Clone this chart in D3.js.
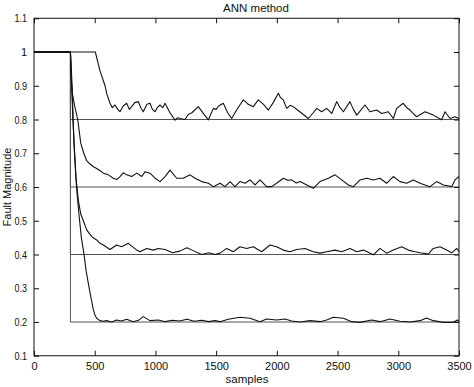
<!DOCTYPE html>
<html>
<head>
<meta charset="utf-8">
<script src="https://cdn.jsdelivr.net/npm/d3@7"></script>
<style>
  html, body { margin: 0; padding: 0; background: #fff; }
  svg { display: block; }
  text { font-family: "Liberation Sans", Arial, Helvetica, sans-serif; fill: #111; }
</style>
</head>
<body>
<svg id="chart" width="474" height="387"></svg>
<script>
// ---- data ----
const xTicks = [0, 500, 1000, 1500, 2000, 2500, 3000, 3500];
const yTicks = [0.1, 0.2, 0.3, 0.4, 0.5, 0.6, 0.7, 0.8, 0.9, 1.0, 1.1];
const yTickLabels = ["0.1", "0.2", "0.3", "0.4", "0.5", "0.6", "0.7", "0.8", "0.9", "1", "1.1"];
const title = "ANN method";
const xLabel = "samples";
const yLabel = "Fault Magnitude";

// reference (true) fault magnitudes: 1 until the fault sample, then the level
const faultSample = 300;
const refLevels = [0.8, 0.6, 0.4, 0.2];

// ANN estimates, [sample, magnitude]
const est08 = [[0,1],[300,1],[500,1],[505,1.0],[543,0.945],[585,0.90],[600,0.875],[626,0.848],[645,0.835],[667,0.843],[690,0.83],[708,0.823],[735,0.84],[763,0.848],[785,0.83],[804,0.838],[830,0.85],[859,0.853],[880,0.835],[900,0.823],[930,0.845],[955,0.848],[975,0.83],[997,0.823],[1015,0.835],[1038,0.843],[1060,0.835],[1079,0.848],[1120,0.82],[1161,0.798],[1180,0.805],[1202,0.803],[1244,0.80],[1270,0.815],[1300,0.82],[1353,0.838],[1400,0.815],[1436,0.799],[1477,0.833],[1500,0.83],[1520,0.84],[1559,0.848],[1595,0.82],[1628,0.803],[1655,0.82],[1680,0.835],[1724,0.858],[1765,0.845],[1806,0.838],[1847,0.858],[1890,0.845],[1930,0.828],[1970,0.85],[2012,0.878],[2030,0.865],[2053,0.858],[2081,0.833],[2110,0.842],[2135,0.838],[2170,0.828],[2200,0.82],[2259,0.803],[2300,0.82],[2328,0.833],[2369,0.823],[2410,0.833],[2452,0.818],[2493,0.853],[2520,0.835],[2548,0.823],[2602,0.853],[2630,0.83],[2658,0.813],[2726,0.843],[2767,0.823],[2822,0.828],[2863,0.818],[2918,0.823],[2959,0.803],[2987,0.833],[3041,0.848],[3070,0.835],[3096,0.828],[3151,0.808],[3220,0.823],[3288,0.813],[3357,0.799],[3385,0.823],[3426,0.803],[3467,0.808],[3500,0.803]];

const est06 = [[0,1],[300,1],[305,0.93],[315,0.88],[335,0.84],[360,0.80],[385,0.73],[410,0.70],[434,0.678],[461,0.668],[490,0.66],[516,0.655],[545,0.648],[571,0.641],[612,0.636],[653,0.626],[680,0.622],[708,0.631],[735,0.642],[763,0.636],[804,0.631],[846,0.641],[887,0.631],[914,0.645],[955,0.641],[997,0.626],[1038,0.616],[1079,0.631],[1120,0.650],[1175,0.626],[1230,0.626],[1285,0.636],[1326,0.626],[1381,0.616],[1436,0.611],[1477,0.601],[1532,0.611],[1573,0.601],[1614,0.616],[1655,0.601],[1696,0.616],[1738,0.611],[1779,0.621],[1820,0.606],[1861,0.621],[1916,0.601],[1957,0.601],[1998,0.611],[2053,0.626],[2090,0.62],[2122,0.621],[2160,0.612],[2191,0.616],[2250,0.605],[2300,0.596],[2355,0.616],[2424,0.626],[2479,0.636],[2534,0.621],[2589,0.606],[2630,0.601],[2685,0.621],[2740,0.626],[2795,0.621],[2849,0.626],[2904,0.611],[2959,0.631],[3014,0.616],[3069,0.611],[3124,0.621],[3179,0.611],[3261,0.601],[3316,0.616],[3371,0.606],[3440,0.601],[3467,0.621],[3500,0.631]];

const est04 = [[0,1],[300,1],[310,0.93],[320,0.83],[330,0.72],[345,0.63],[365,0.561],[385,0.52],[406,0.50],[434,0.473],[475,0.453],[516,0.443],[543,0.433],[571,0.428],[626,0.415],[680,0.428],[722,0.423],[777,0.433],[846,0.413],[873,0.408],[928,0.418],[982,0.413],[1024,0.418],[1080,0.415],[1140,0.405],[1200,0.41],[1260,0.42],[1320,0.41],[1380,0.40],[1440,0.405],[1490,0.40],[1532,0.404],[1587,0.418],[1641,0.408],[1696,0.423],[1751,0.418],[1806,0.423],[1875,0.408],[1944,0.428],[1998,0.423],[2053,0.413],[2108,0.408],[2163,0.415],[2232,0.418],[2300,0.408],[2355,0.404],[2410,0.408],[2479,0.413],[2534,0.408],[2602,0.418],[2658,0.408],[2712,0.413],[2795,0.399],[2849,0.418],[2904,0.404],[2959,0.413],[3028,0.423],[3082,0.413],[3137,0.408],[3179,0.405],[3247,0.401],[3288,0.418],[3343,0.423],[3398,0.413],[3440,0.405],[3481,0.418],[3500,0.408]];

const est02 = [[0,1],[300,1],[310,0.9],[320,0.8],[335,0.7],[350,0.6],[370,0.52],[390,0.45],[412,0.40],[430,0.35],[447,0.315],[465,0.28],[489,0.236],[502,0.221],[516,0.211],[543,0.204],[571,0.202],[598,0.204],[640,0.2],[680,0.206],[720,0.203],[763,0.208],[817,0.201],[860,0.205],[900,0.216],[955,0.204],[1024,0.206],[1080,0.201],[1140,0.205],[1200,0.203],[1260,0.208],[1320,0.202],[1380,0.205],[1440,0.201],[1490,0.204],[1532,0.201],[1600,0.208],[1696,0.214],[1779,0.211],[1861,0.201],[1916,0.209],[1998,0.206],[2067,0.209],[2122,0.203],[2191,0.200],[2273,0.204],[2355,0.201],[2410,0.206],[2465,0.214],[2548,0.211],[2616,0.201],[2685,0.199],[2781,0.206],[2849,0.201],[2932,0.209],[3014,0.202],[3096,0.200],[3179,0.204],[3233,0.212],[3288,0.204],[3371,0.199],[3453,0.199],[3486,0.206],[3500,0.201]];

const estimates = [est08, est06, est04, est02];

// ---- layout ----
const mLeft = 34, mRight = 459, mTop = 18.25, mBottom = 355.75;
const svg = d3.select("#chart");
const x = d3.scaleLinear().domain([0, 3500]).range([mLeft, mRight]);
const y = d3.scaleLinear().domain([0.1, 1.1]).range([mBottom, mTop]);

// reference step lines
const refLine = d3.line().x(d => x(d[0])).y(d => y(d[1]));
const xMax = x.domain()[1];
refLevels.forEach(lv => {
  const pts = [[0, 1], [faultSample, 1], [faultSample, lv], [xMax, lv]];
  svg.append("path").attr("d", refLine(pts))
    .attr("fill", "none").attr("stroke", "#555").attr("stroke-width", 1);
});

// estimate curves
const line = d3.line().x(d => x(d[0])).y(d => y(d[1]));
estimates.forEach(s => {
  svg.append("path").attr("d", line(s))
    .attr("fill", "none").attr("stroke", "#111").attr("stroke-width", 1.1)
    .attr("stroke-linejoin", "round");
});

// axes (MATLAB-like: ticks inward on all sides)
const fs = "11px";
const gB = svg.append("g").attr("transform", `translate(0,${mBottom})`)
  .call(d3.axisBottom(x).tickValues(xTicks).tickSize(-5).tickPadding(6).tickFormat(d3.format("d")));
const gL = svg.append("g").attr("transform", `translate(${mLeft},0)`)
  .call(d3.axisLeft(y).tickValues(yTicks).tickSize(-5).tickPadding(7).tickFormat((d, i) => yTickLabels[i]));
const gT = svg.append("g").attr("transform", `translate(0,${mTop})`)
  .call(d3.axisTop(x).tickValues(xTicks).tickSize(-5).tickFormat(""));
const gR = svg.append("g").attr("transform", `translate(${mRight},0)`)
  .call(d3.axisRight(y).tickValues(yTicks).tickSize(-5).tickFormat(""));
[gB, gL, gT, gR].forEach(g => {
  g.select(".domain").remove();
  g.selectAll("line").attr("stroke", "#111");
  g.selectAll("text").style("font-size", fs).attr("fill", "#111")
    .style("font-family", '"Liberation Sans", Arial, sans-serif');
});
// the y tick labels are narrow in the reference
gL.selectAll("text").each(function () {
  const t = d3.select(this);
  if (t.text().length === 3) t.attr("textLength", 12.5).attr("lengthAdjust", "spacingAndGlyphs");
});

svg.append("rect").attr("x", mLeft).attr("y", mTop)
  .attr("width", mRight - mLeft).attr("height", mBottom - mTop)
  .attr("fill", "none").attr("stroke", "#111").attr("stroke-width", 1);

// labels
svg.append("text").attr("x", 256).attr("y", 12).attr("text-anchor", "middle")
  .style("font-size", "11.5px").text(title);
svg.append("text").attr("x", 247).attr("y", 383).attr("text-anchor", "middle")
  .style("font-size", "11.5px").text(xLabel);
svg.append("text").attr("transform", `translate(11,${(mTop + mBottom) / 2}) rotate(-90)`)
  .attr("text-anchor", "middle").style("font-size", "11px").text(yLabel);
</script>
</body>
</html>
